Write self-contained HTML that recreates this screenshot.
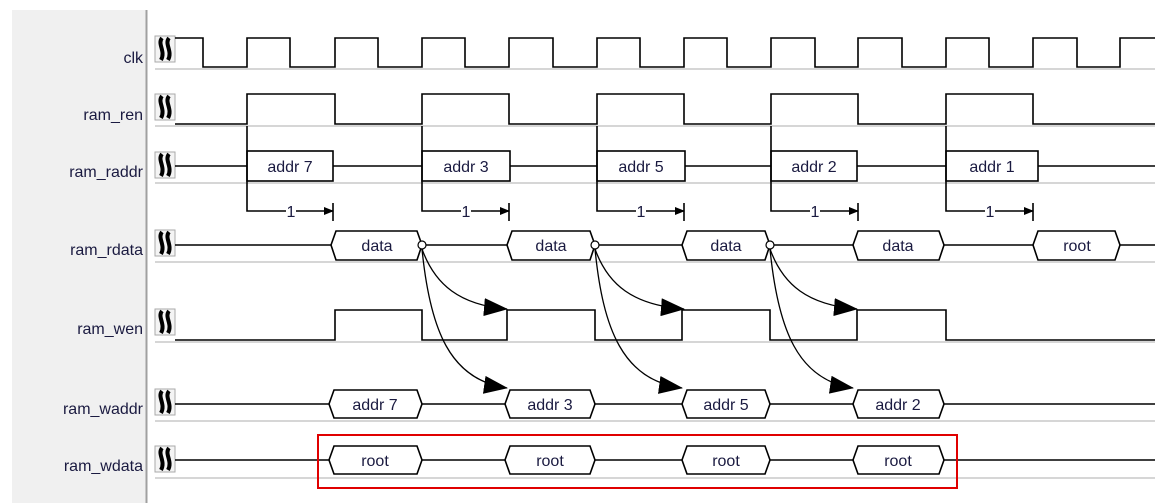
<!DOCTYPE html>
<html><head><meta charset="utf-8"><style>
html,body{margin:0;padding:0;background:#fff;width:1170px;height:503px;overflow:hidden}
text{font-family:"Liberation Sans",Arial,sans-serif;font-size:16px}
</style></head><body>
<svg width="1170" height="503" viewBox="0 0 1170 503" xmlns="http://www.w3.org/2000/svg">
<defs>
<g id="ic">
<rect x="0" y="0" width="20" height="26" fill="#f4f4f4" stroke="#aaa" stroke-width="1"/>
<path d="M7,2 C2,8 11,15 6,24 M14,2 C9,8 18,15 13,24" stroke="#000" stroke-width="4" fill="none"/>
</g>
<marker id="ah" markerWidth="10" markerHeight="8" refX="9" refY="4" orient="auto" markerUnits="userSpaceOnUse"><path d="M0,0 L10,4 L0,8 Z" fill="#000"/></marker>
<marker id="ab" markerWidth="24" markerHeight="18" refX="23" refY="9" orient="auto" markerUnits="userSpaceOnUse"><path d="M0,0 L24,9 L0,18 Z" fill="#000"/></marker>
</defs>
<rect x="12" y="10" width="134" height="493" fill="#f0f0f0"/>
<line x1="146.5" y1="10" x2="146.5" y2="503" stroke="#a0a0a0" stroke-width="2"/>
<g fill="#1a1a40" text-anchor="end">
<text x="143" y="63">clk</text>
<text x="143" y="120">ram_ren</text>
<text x="143" y="177">ram_raddr</text>
<text x="143" y="255">ram_rdata</text>
<text x="143" y="334">ram_wen</text>
<text x="143" y="414">ram_waddr</text>
<text x="143" y="471">ram_wdata</text>
</g>
<use href="#ic" x="155" y="36"/><use href="#ic" x="155" y="94"/><use href="#ic" x="155" y="152"/>
<use href="#ic" x="155" y="230"/><use href="#ic" x="155" y="309"/><use href="#ic" x="155" y="389"/><use href="#ic" x="155" y="446"/>
<g stroke="#c8c8c8" stroke-width="1.5">
<line x1="155" y1="69" x2="1155" y2="69"/><line x1="155" y1="126" x2="1155" y2="126"/>
<line x1="155" y1="183" x2="1155" y2="183"/><line x1="155" y1="262" x2="1155" y2="262"/>
<line x1="155" y1="342" x2="1155" y2="342"/><line x1="155" y1="421" x2="1155" y2="421"/>
<line x1="155" y1="478" x2="1155" y2="478"/>
</g>
<g stroke="#000" stroke-width="1.6" fill="none">
<path d="M175,38 H203 V67 H247 V38 H290 V67 H335 V38 H378 V67 H422 V38 H465 V67 H509 V38 H553 V67 H597 V38 H640 V67 H684 V38 H727 V67 H771 V38 H815 V67 H858 V38 H902 V67 H946 V38 H989 V67 H1033 V38 H1077 V67 H1120 V38 H1155"/>
<path d="M175,124 H247 V94 H335 V124 H422 V94 H509 V124 H597 V94 H684 V124 H771 V94 H858 V124 H946 V94 H1033 V124 H1155"/>
<path d="M175,166 H247 M333,166 H422 M510,166 H597 M685,166 H771 M857,166 H946 M1038,166 H1155"/>
<rect x="247" y="151" width="86" height="30"/><rect x="422" y="151" width="88" height="30"/>
<rect x="597" y="151" width="88" height="30"/><rect x="771" y="151" width="86" height="30"/>
<rect x="946" y="151" width="92" height="30"/>
<path d="M247,126 V211 H286 M296,211 H333" marker-end="url(#ah)"/><path d="M333,203 V221"/>
<path d="M422,126 V211 H461 M471,211 H509" marker-end="url(#ah)"/><path d="M509,203 V221"/>
<path d="M597,126 V211 H636 M646,211 H684" marker-end="url(#ah)"/><path d="M684,203 V221"/>
<path d="M771,126 V211 H810 M820,211 H858" marker-end="url(#ah)"/><path d="M858,203 V221"/>
<path d="M946,126 V211 H985 M995,211 H1033" marker-end="url(#ah)"/><path d="M1033,203 V221"/>
<path d="M175,245 H331 M422,245 H507 M595,245 H682 M770,245 H853 M944,245 H1033 M1120,245 H1155"/>
<path d="M331,245 L336,231 H417 L422,245 L417,260 H336 Z"/>
<path d="M507,245 L512,231 H590 L595,245 L590,260 H512 Z"/>
<path d="M682,245 L687,231 H765 L770,245 L765,260 H687 Z"/>
<path d="M853,245 L858,231 H939 L944,245 L939,260 H858 Z"/>
<path d="M1033,245 L1038,231 H1115 L1120,245 L1115,260 H1038 Z"/>
<path d="M175,340 H335 V310 H422 V340 H507 V310 H595 V340 H682 V310 H770 V340 H857 V310 H946 V340 H1155"/>
<path d="M175,404 H329 M422,404 H505 M595,404 H682 M770,404 H853 M944,404 H1155"/>
<path d="M329,404 L334,390 H417 L422,404 L417,418 H334 Z"/>
<path d="M505,404 L510,390 H590 L595,404 L590,418 H510 Z"/>
<path d="M682,404 L687,390 H765 L770,404 L765,418 H687 Z"/>
<path d="M853,404 L858,390 H939 L944,404 L939,418 H858 Z"/>
<path d="M175,460 H329 M422,460 H505 M595,460 H682 M770,460 H853 M944,460 H1155"/>
<path d="M329,460 L334,446 H417 L422,460 L417,474 H334 Z"/>
<path d="M505,460 L510,446 H590 L595,460 L590,474 H510 Z"/>
<path d="M682,460 L687,446 H765 L770,460 L765,474 H687 Z"/>
<path d="M853,460 L858,446 H939 L944,460 L939,474 H858 Z"/>
<g stroke-width="1.3">
<path d="M422,249 C435,285 460,305 507,309" marker-end="url(#ab)"/>
<path d="M422,249 C430,330 450,380 507,388" marker-end="url(#ab)"/>
<path d="M595,249 C608,285 633,305 684,309" marker-end="url(#ab)"/>
<path d="M595,249 C603,330 623,380 682,388" marker-end="url(#ab)"/>
<path d="M770,249 C783,285 808,305 857,309" marker-end="url(#ab)"/>
<path d="M770,249 C778,330 798,380 853,388" marker-end="url(#ab)"/>
</g>
</g>
<g fill="#fff" stroke="#000" stroke-width="1.2">
<circle cx="422" cy="245" r="4"/><circle cx="595" cy="245" r="4"/><circle cx="770" cy="245" r="4"/>
</g>
<rect x="318" y="435" width="639" height="53" fill="none" stroke="#e00000" stroke-width="2"/>
<g fill="#1a1a40" text-anchor="middle">
<text x="290" y="172">addr 7</text><text x="466" y="172">addr 3</text><text x="641" y="172">addr 5</text>
<text x="814" y="172">addr 2</text><text x="992" y="172">addr 1</text>
<text x="291" y="217" font-size="15">1</text><text x="466" y="217" font-size="15">1</text><text x="641" y="217" font-size="15">1</text><text x="815" y="217" font-size="15">1</text><text x="990" y="217" font-size="15">1</text>
<text x="377" y="251">data</text><text x="551" y="251">data</text><text x="726" y="251">data</text>
<text x="898" y="251">data</text><text x="1077" y="251">root</text>
<text x="375" y="410">addr 7</text><text x="550" y="410">addr 3</text><text x="726" y="410">addr 5</text><text x="898" y="410">addr 2</text>
<text x="375" y="466">root</text><text x="550" y="466">root</text><text x="726" y="466">root</text><text x="898" y="466">root</text>
</g>
</svg>
</body></html>
